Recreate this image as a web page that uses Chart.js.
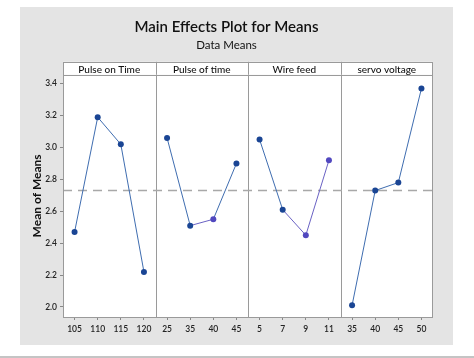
<!DOCTYPE html>
<html>
<head>
<meta charset="utf-8">
<script src="https://cdn.jsdelivr.net/npm/chart.js@4/dist/chart.umd.min.js"></script>
<style>
  html, body { margin: 0; padding: 0; background: #fff; }
  body { width: 474px; height: 358px; position: relative; overflow: hidden; }
  #wrap { position: absolute; left: 20px; top: 7px; width: 433px; height: 338px; background: #e4e4e4; }
  #edge { position: absolute; left: 0; top: 356px; width: 474px; height: 2px; background: #c4c4c4; }
</style>
</head>
<body>
<div id="wrap"><canvas id="mainChart" width="433" height="338"></canvas></div>
<div id="edge"></div>
<script>
// Main effects data
const factorNames = ['Pulse on Time', 'Pulse of time', 'Wire feed', 'servo voltage'];
const pulseOnLevels = ['105', '110', '115', '120'];
const pulseOnMeans = [2.47, 3.19, 3.02, 2.22];
const pulseOffLevels = ['25', '35', '40', '45'];
const pulseOffMeans = [3.06, 2.51, 2.55, 2.90];
const wireFeedLevels = ['5', '7', '9', '11'];
const wireFeedMeans = [3.05, 2.61, 2.45, 2.92];
const servoLevels = ['35', '40', '45', '50'];
const servoMeans = [2.01, 2.73, 2.78, 3.37];
const grandMean = 2.73;
const yTicks = [2.0, 2.2, 2.4, 2.6, 2.8, 3.0, 3.2, 3.4];

const levelGroups = [pulseOnLevels, pulseOffLevels, wireFeedLevels, servoLevels];
const meanGroups = [pulseOnMeans, pulseOffMeans, wireFeedMeans, servoMeans];
const labels = levelGroups.flat();

const FONT = 'Lato, "Open Sans", sans-serif';
const NAVY = '#1a4594';
const LINE = '#3f6db0';
const VIOLET = '#5148bf';

// each panel is its own dataset, padded with nulls so lines don't join across panels
const datasets = meanGroups.map((means, g) => {
  const start = levelGroups.slice(0, g).reduce((n, a) => n + a.length, 0);
  const data = labels.map((_, i) => (i >= start && i < start + means.length) ? means[i - start] : null);
  // panels 2 and 3 have a few violet-ish points/segments in the original
  const violetPts = g === 1 ? [start + 2] : g === 2 ? [start + 2, start + 3] : [];
  return {
    label: factorNames[g],
    data,
    borderColor: LINE,
    borderWidth: 1,
    pointRadius: 3,
    pointHoverRadius: 3,
    pointBorderWidth: 0,
    pointBackgroundColor: labels.map((_, i) => violetPts.includes(i) ? VIOLET : NAVY),
    segment: {
      borderColor: ctx => violetPts.includes(ctx.p1DataIndex) ? '#6a62c4' : LINE
    },
    tension: 0
  };
});

function panelEdges(x) {
  const edges = [x.left];
  let idx = 0;
  levelGroups.slice(0, -1).forEach(g => {
    idx += g.length;
    edges.push((x.getPixelForValue(idx - 1) + x.getPixelForValue(idx)) / 2);
  });
  edges.push(x.right);
  return edges;
}

const panelFrame = {
  id: 'panelFrame',
  beforeDraw(chart) {
    const { ctx, chartArea: a } = chart;
    ctx.save();
    ctx.fillStyle = '#fff';
    ctx.fillRect(a.left, a.top, a.right - a.left, a.bottom - a.top);
    ctx.restore();
  },
  beforeDatasetsDraw(chart) {
    const { ctx, chartArea: a, scales: { x, y } } = chart;
    const edges = panelEdges(x);
    ctx.save();
    // panel separators
    ctx.strokeStyle = '#9a9a9a';
    ctx.lineWidth = 1;
    edges.slice(1, -1).forEach(px => {
      ctx.beginPath();
      ctx.moveTo(Math.round(px) + 0.5, a.top);
      ctx.lineTo(Math.round(px) + 0.5, a.bottom);
      ctx.stroke();
    });
    // grand mean reference line
    const my = y.getPixelForValue(grandMean);
    ctx.strokeStyle = '#a8a8a8';
    ctx.lineWidth = 1.5;
    ctx.setLineDash([9, 6]);
    ctx.beginPath();
    ctx.moveTo(a.left, my);
    ctx.lineTo(a.right, my);
    ctx.stroke();
    ctx.restore();
  },
  afterDraw(chart) {
    const { ctx, chartArea: a, scales: { x } } = chart;
    const edges = panelEdges(x);
    const stripH = 13;
    ctx.save();
    ctx.strokeStyle = '#9a9a9a';
    ctx.lineWidth = 1;
    ctx.strokeRect(Math.round(a.left) + 0.5, Math.round(a.top) + 0.5, Math.round(a.right - a.left) - 1, Math.round(a.bottom - a.top));
    // header strip with factor names
    ctx.fillStyle = '#fff';
    ctx.fillRect(a.left, a.top - stripH, a.right - a.left, stripH);
    ctx.strokeRect(Math.round(a.left) + 0.5, Math.round(a.top - stripH) + 0.5, Math.round(a.right - a.left) - 1, stripH);
    ctx.font = '500 10px ' + FONT;
    ctx.textAlign = 'center';
    ctx.textBaseline = 'middle';
    factorNames.forEach((name, i) => {
      if (i > 0) {
        ctx.beginPath();
        ctx.moveTo(Math.round(edges[i]) + 0.5, a.top - stripH);
        ctx.lineTo(Math.round(edges[i]) + 0.5, a.top);
        ctx.stroke();
      }
      ctx.fillStyle = '#111';
      ctx.fillText(name, (edges[i] + edges[i + 1]) / 2, a.top - stripH / 2 + 1);
    });
    ctx.restore();
  }
};

Chart.defaults.font.family = FONT;
Chart.defaults.color = '#222';

new Chart(document.getElementById('mainChart').getContext('2d'), {
  type: 'line',
  data: { labels, datasets },
  plugins: [panelFrame],
  options: {
    responsive: false,
    animation: false,
    layout: { padding: { left: 0, right: 20, bottom: 0 } },
    plugins: {
      legend: { display: false },
      tooltip: { enabled: false },
      title: {
        display: true,
        text: 'Main Effects Plot for Means',
        color: '#111',
        font: { size: 15, weight: '600' },
        padding: { top: 11, bottom: 0 }
      },
      subtitle: {
        display: true,
        text: 'Data Means',
        color: '#111',
        font: { size: 11.5 },
        padding: { top: 2, bottom: 23 }
      }
    },
    scales: {
      x: {
        type: 'category',
        offset: true,
        afterFit: s => { s.height = 28; },
        grid: { display: true, drawOnChartArea: false, offset: false, tickLength: 3, color: '#888' },
        border: { display: false },
        ticks: { autoSkip: false, maxRotation: 0, padding: 4, font: { size: 8.5, weight: '600' }, color: '#222' }
      },
      y: {
        min: 1.937,
        max: 3.456,
        afterFit: s => { s.width = 43; },
        afterBuildTicks: s => { s.ticks = yTicks.map(v => ({ value: v })); },
        grid: { display: true, drawOnChartArea: false, tickLength: 3, color: '#888' },
        border: { display: false },
        ticks: { padding: 3, font: { size: 8.5, weight: '600' }, color: '#222', callback: v => v.toFixed(1) },
        title: {
          display: true,
          text: 'Mean of Means',
          color: '#111',
          font: { size: 12, weight: 'bold' },
          padding: { top: 10, bottom: 0 }
        }
      }
    }
  }
});
</script>
</body>
</html>
